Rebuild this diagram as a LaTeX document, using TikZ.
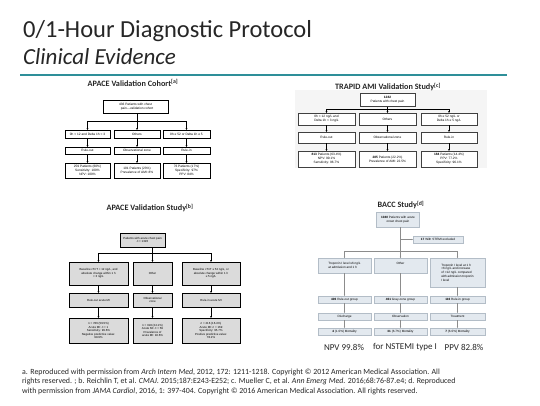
\documentclass[tikz,border=0pt]{standalone}
\usepackage{fontspec}
\setmainfont{Carlito}
\newfontfamily\figfont{Liberation Sans}
\usetikzlibrary{arrows.meta}
\definecolor{ink}{HTML}{262626}
\definecolor{tealrule}{rgb}{0.18,0.56,0.6}
\definecolor{baccfill}{HTML}{E3E9EF}
\definecolor{baccline}{HTML}{B3BDC7}
\tikzset{
  ttl/.style   = {font=\fontsize{24.5}{29}\selectfont, text=ink, anchor=base west,
                  inner sep=0pt},
  sttl/.style  = {font=\itshape\fontsize{23}{27}\selectfont, text=ink, anchor=base west,
                  inner sep=0pt},
  hdr/.style   = {font=\bfseries\fontsize{8.2}{9}\selectfont, text=ink, inner sep=0pt},
  abox/.style  = {draw, line width=0.3pt, fill=white, align=center, inner sep=0.5pt,
                  font=\figfont\fontsize{3.2}{3.9}\selectfont},
  tbox/.style  = {abox, draw=black!75},
  sbox/.style  = {abox, fill=black!14, font=\figfont\fontsize{2.9}{3.5}\selectfont},
  cbox/.style  = {abox, draw=baccline, line width=0.2pt, fill=baccfill,
                  font=\figfont\fontsize{3.1}{3.8}\selectfont},
  lnk/.style   = {line width=0.35pt},
  arr/.style   = {line width=0.35pt, -{Stealth[length=1.8pt,width=1.8pt]}},
  clnk/.style  = {line width=0.25pt, draw=black!45},
  carr/.style  = {clnk, -{Stealth[length=1.3pt,width=1.3pt]}},
  foot/.style  = {font=\fontsize{9}{10}\selectfont, text=ink, inner sep=0pt},
  note/.style  = {font=\fontsize{7.9}{9.4}\selectfont, text=ink, anchor=base west,
                  inner sep=0pt},
}

\begin{document}
\begin{tikzpicture}[x=1pt,y=-1pt]
  \fill[white] (0,0) rectangle (540,405);
  \useasboundingbox (0,0) rectangle (540,405);
  \node[ttl] (title) at (23,37) {0/1-Hour Diagnostic Protocol};
  \node[sttl] (subtitle) at (23,64) {Clinical Evidence};

  \node[hdr] (h1) at (133,83) {APACE Validation Cohort\textsuperscript{[a]}};
  \node[abox, minimum width=65, minimum height=13] (a0) at (135.5,106.5)
    {436 Patients with chest\\\quad pain---validation cohort};
  \node[abox, minimum width=45, minimum height=8] (a1) at (87.5,134) {0h < 12 and Delta 1h < 3};
  \node[abox, minimum width=46, minimum height=8] (a2) at (137,134) {Others};
  \node[abox, minimum width=47, minimum height=8] (a3) at (186.5,134) {0h ≥ 52 or Delta 1h ≥ 5};
  \node[abox, minimum width=45, minimum height=7] (a4) at (87.5,150.5) {Rule-out};
  \node[abox, minimum width=46, minimum height=7] (a5) at (137,150.5) {Observational zone};
  \node[abox, minimum width=47, minimum height=7] (a6) at (186.5,150.5) {Rule-in};
  \node[abox, minimum width=45, minimum height=15] (a7) at (87.5,170.5)
    {259 Patients (60\%)\\Sensitivity: 100\%\\NPV: 100\%};
  \node[abox, minimum width=46, minimum height=15] (a8) at (137,170.5)
    {101 Patients (23\%)\\Prevalence of AMI: 8\%};
  \node[abox, minimum width=47, minimum height=15] (a9) at (186.5,170.5)
    {76 Patients (17\%)\\Specificity: 97\%\\PPV: 84\%};
  \coordinate (a-bus) at (137,121);
  \draw[lnk] (a0.south -| a-bus) -- (a-bus);
  \draw[arr] (a-bus) -| (a1);
  \draw[arr] (a-bus) -- (a2);
  \draw[arr] (a-bus) -| (a3);
  \draw[arr] (a1) -- (a4);
  \draw[arr] (a2) -- (a5);
  \draw[arr] (a3) -- (a6);
  \draw[arr] (a4) -- (a7);
  \draw[arr] (a5) -- (a8);
  \draw[arr] (a6) -- (a9);

  \fill[black!4] (295,90) rectangle (487,168);
  \node[hdr] (h2) at (388,87) {TRAPID AMI Validation Study\textsuperscript{[c]}};
  \node[tbox, minimum width=55, minimum height=13] (t0) at (387.5,100)
    {\textbf{1282}\\Patients with chest pain};
  \node[tbox, minimum width=57, minimum height=12] (t1) at (326.5,119)
    {0h < 12 ng/L and\\Delta 1h < 3 ng/L};
  \node[tbox, minimum width=57, minimum height=12] (t2) at (387.5,119) {Others};
  \node[tbox, minimum width=56, minimum height=12] (t3) at (449,119)
    {0h ≥ 52 ng/L or\\Delta 1h ≥ 5 ng/L};
  \node[tbox, minimum width=57, minimum height=11] (t4) at (326.5,137.5) {Rule-out};
  \node[tbox, minimum width=57, minimum height=11] (t5) at (387.5,137.5) {Observational zone};
  \node[tbox, minimum width=56, minimum height=11] (t6) at (449,137.5) {Rule-in};
  \node[tbox, minimum width=57, minimum height=16] (t7) at (326.5,159)
    {\textbf{813} Patients (63.4\%)\\NPV: 99.1\%\\Sensitivity: 96.7\%};
  \node[tbox, minimum width=57, minimum height=16] (t8) at (387.5,159)
    {\textbf{285} Patients (22.2\%)\\Prevalence of AMI: 22.5\%};
  \node[tbox, minimum width=56, minimum height=16] (t9) at (449,159)
    {\textbf{184} Patients (14.4\%)\\PPV: 77.2\%\\Specificity: 96.1\%};
  \coordinate (t-bus) at (387.5,109);
  \draw[lnk] (t0) -- (t-bus);
  \draw[arr] (t-bus) -| (t1);
  \draw[arr] (t-bus) -- (t2);
  \draw[arr] (t-bus) -| (t3);
  \draw[arr] (t1) -- (t4);
  \draw[arr] (t2) -- (t5);
  \draw[arr] (t3) -- (t6);
  \draw[arr] (t4) -- (t7);
  \draw[arr] (t5) -- (t8);
  \draw[arr] (t6) -- (t9);

  \node[hdr] (h3) at (150,208) {APACE Validation Study\textsuperscript{[b]}};
  \node[sbox, minimum width=45, minimum height=14] (s0) at (142.5,240)
    {Patients with acute chest pain\\\textit{n} = 1320};
  \node[sbox, minimum width=59, minimum height=23] (s1) at (98.5,273.5)
    {Baseline cTnT < 12 ng/L, and\\absolute change within 1 h\\< 3 ng/L};
  \node[sbox, minimum width=39, minimum height=23] (s2) at (152.5,273.5) {Other};
  \node[sbox, minimum width=58, minimum height=23] (s3) at (211,273.5)
    {Baseline cTnT ≥ 52 ng/L, or\\absolute change within 1 h\\≥ 5 ng/L};
  \node[sbox, minimum width=59, minimum height=14] (s4) at (98.5,300) {Rule-out acute MI};
  \node[sbox, minimum width=39, minimum height=14] (s5) at (152.5,300) {Observational\\zone};
  \node[sbox, minimum width=58, minimum height=14] (s6) at (211,300) {Rule-in acute MI};
  \node[sbox, minimum width=59, minimum height=25] (s7) at (98.5,330.5)
    {\textit{n} = 786 (59.5\%)\\Acute MI: \textit{n} = 1\\Sensitivity: 99.6\%\\Negative predictive value:\\99.9\%};
  \node[sbox, minimum width=39, minimum height=25] (s8) at (152.5,330.5)
    {\textit{n} = 318 (24.1\%)\\Acute MI: \textit{n} = 59\\Prevalence of\\acute MI: 18.6\%};
  \node[sbox, minimum width=58, minimum height=25] (s9) at (211,330.5)
    {\textit{n} = 216 (16.4\%)\\Acute MI: \textit{n} = 169\\Specificity: 95.7\%\\Positive predictive value:\\78.2\%};
  \coordinate (s-bus) at (152.5,253);
  \draw[lnk] (s0.south -| s-bus) -- (s-bus);
  \draw[arr] (s-bus) -| (s1);
  \draw[arr] (s-bus) -- (s2);
  \draw[arr] (s-bus) -| (s3);
  \draw[arr] (s1) -- (s4);
  \draw[arr] (s2) -- (s5);
  \draw[arr] (s3) -- (s6);
  \draw[arr] (s4) -- (s7);
  \draw[arr] (s5) -- (s8);
  \draw[arr] (s6) -- (s9);

  \node[hdr] (h4) at (401,205) {BACC Study\textsuperscript{[d]}};
  \node[cbox, minimum width=43, minimum height=15] (c0) at (398,219.5)
    {\textbf{1040} Patients with acute\\onset chest pain};
  \node[cbox, minimum width=50, minimum height=7] (cx) at (438,239.5)
    {\textbf{17} With STEMI excluded};
  \node[cbox, minimum width=53, minimum height=15, anchor=north, align=left] (c1) at (344.5,258)
    {Troponin I level ≤6 ng/L\\at admission and 1 h};
  \node[cbox, minimum width=53, minimum height=15, anchor=north] (c2) at (400.5,258)
    {Other\\~};
  \node[cbox, minimum width=55, minimum height=29, anchor=north, align=left] (c3) at (457.5,258)
    {Troponin I level at 1 h\\>6 ng/L and increase\\of >12 ng/L compared\\with admission troponin\\I level};
  \node[cbox, minimum width=53, minimum height=7] (c4) at (344.5,299.5) {\textbf{406} Rule-out group};
  \node[cbox, minimum width=53, minimum height=7] (c5) at (400.5,299.5) {\textbf{461} Gray-zone group};
  \node[cbox, minimum width=55, minimum height=7] (c6) at (457.5,299.5) {\textbf{116} Rule-in group};
  \node[cbox, minimum width=53, minimum height=7] (c7) at (344.5,316.5) {Discharge};
  \node[cbox, minimum width=53, minimum height=7] (c8) at (400.5,316.5) {Observation};
  \node[cbox, minimum width=55, minimum height=7] (c9) at (457.5,316.5) {Treatment};
  \node[cbox, minimum width=53, minimum height=7] (c10) at (344.5,331.5) {\textbf{4} (1.0\%) Mortality};
  \node[cbox, minimum width=53, minimum height=7] (c11) at (400.5,331.5) {\textbf{31} (6.7\%) Mortality};
  \node[cbox, minimum width=55, minimum height=7] (c12) at (457.5,331.5) {\textbf{7} (6.0\%) Mortality};
  \coordinate (c-bus) at (400.5,251);
  \coordinate (c-tap) at (400.5,239.5);
  \draw[clnk] (c0.south -| c-bus) -- (c-bus);
  \draw[carr] (c-tap) -- (cx);
  \draw[clnk] (c1 |- c-bus) -- (c3 |- c-bus);
  \draw[carr] (c1 |- c-bus) -- (c1);
  \draw[carr] (c-bus) -- (c2);
  \draw[carr] (c3 |- c-bus) -- (c3);
  \draw[carr] (c1) -- (c4);
  \draw[carr] (c2) -- (c5);
  \draw[carr] (c3) -- (c6);
  \draw[carr] (c4) -- (c7);
  \draw[carr] (c5) -- (c8);
  \draw[carr] (c6) -- (c9);
  \draw[carr] (c7) -- (c10);
  \draw[carr] (c8) -- (c11);
  \draw[carr] (c9) -- (c12);
  \node[foot] (npv) at (344,347) {NPV 99.8\%};
  \node[foot] (nstemi) at (405,347) {for NSTEMI type I};
  \node[foot] (ppv) at (464,347) {PPV 82.8\%};

  \node[note] (n1) at (22,374) {a. Reproduced with permission from \textit{Arch Intern Med}, 2012, 172: 1211-1218. Copyright © 2012 American Medical Association. All};
  \node[note] (n2) at (22,383.5) {rights reserved. ; b. Reichlin T, et al. \textit{CMAJ}. 2015;187:E243-E252; c. Mueller C, et al. \textit{Ann Emerg Med}. 2016;68:76-87.e4; d. Reproduced};
  \node[note] (n3) at (22,393) {with permission from \textit{JAMA Cardiol}, 2016, 1: 397-404. Copyright © 2016 American Medical Association. All rights reserved.};

  \draw[draw=tealrule, line width=1.6pt] (20,75) -- (507,75);
\end{tikzpicture}
\end{document}
